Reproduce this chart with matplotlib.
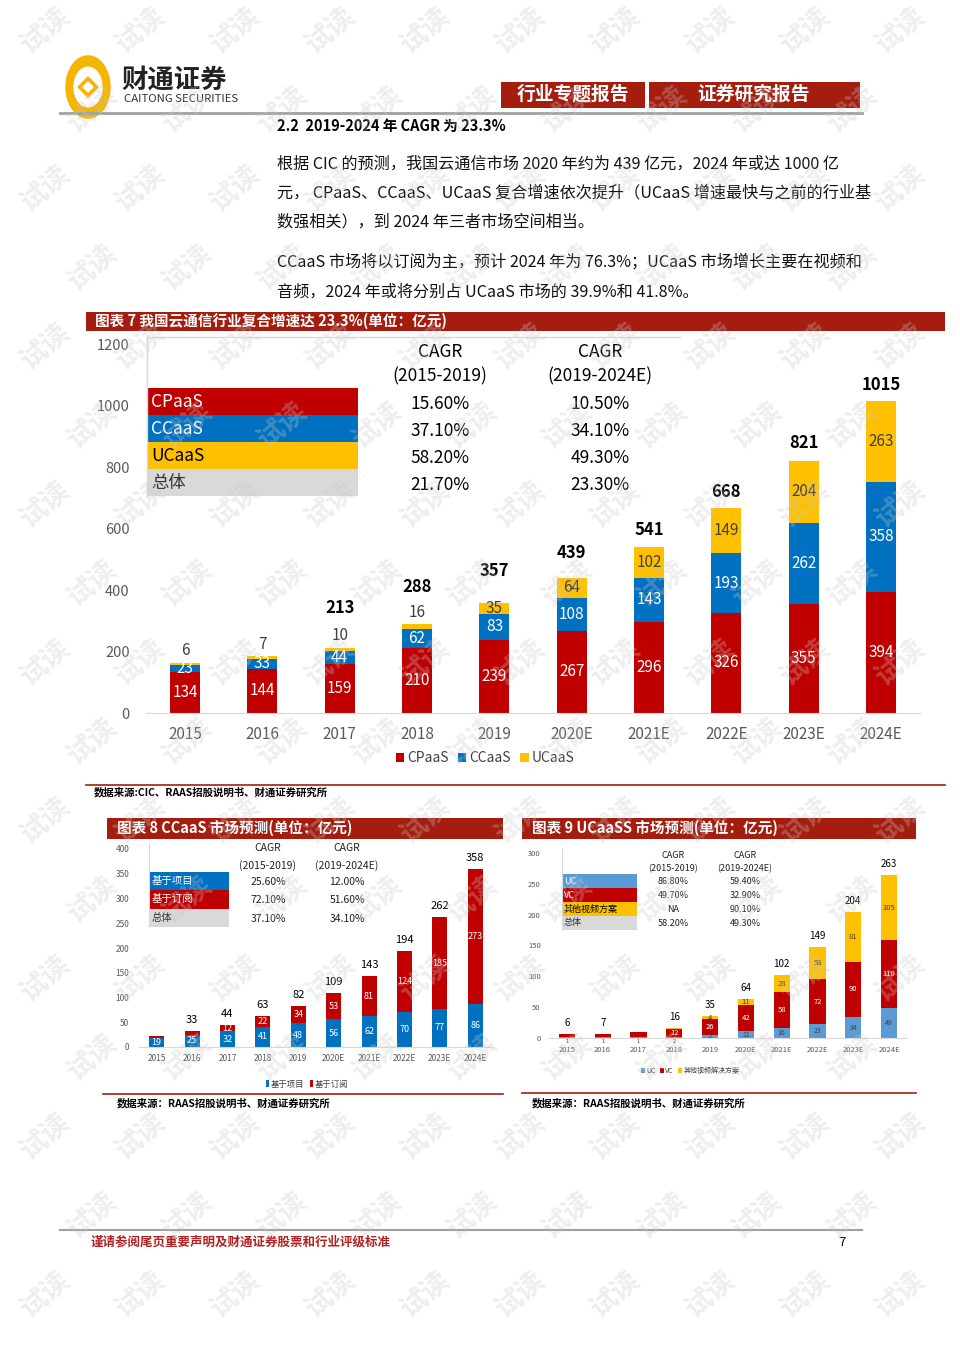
import matplotlib
matplotlib.use('Agg')
import numpy as np
import matplotlib.pyplot as plt
from matplotlib.patches import Rectangle, Circle, Polygon
from matplotlib.lines import Line2D

plt.rcParams['font.family'] = ['Noto Sans CJK SC', 'DejaVu Sans']

# ---- data ----
years = ['2015', '2016', '2017', '2018', '2019', '2020E', '2021E', '2022E', '2023E', '2024E']

# chart 7: cloud communication market (亿元)
cpaas = [134, 144, 159, 210, 239, 267, 296, 326, 355, 394]
ccaas = [23, 33, 44, 62, 83, 108, 143, 193, 262, 358]
ucaas = [6, 7, 10, 16, 35, 64, 102, 149, 204, 263]
total7 = [163, 184, 213, 288, 357, 439, 541, 668, 821, 1015]
cagr7_rows = ['CPaaS', 'CCaaS', 'UCaaS', '总体']
cagr7_a = ['15.60%', '37.10%', '58.20%', '21.70%']
cagr7_b = ['10.50%', '34.10%', '49.30%', '23.30%']

# chart 8: CCaaS
project = [19, 25, 32, 41, 48, 56, 62, 70, 77, 86]
subscr = [4, 8, 12, 22, 34, 53, 81, 124, 185, 273]
total8 = [23, 33, 44, 63, 82, 109, 143, 194, 262, 358]
cagr8_rows = ['基于项目', '基于订阅', '总体']
cagr8_a = ['25.60%', '72.10%', '37.10%']
cagr8_b = ['12.00%', '51.60%', '34.10%']

# chart 9: UCaaS
uc = [1, 1, 1, 2, 5, 11, 16, 23, 34, 49]
vc = [5, 6, 8, 12, 26, 42, 58, 72, 90, 110]
other = [0, 0, 1, 2, 4, 11, 28, 53, 81, 105]
total9 = [6, 7, 10, 16, 35, 64, 102, 149, 204, 263]
cagr9_rows = ['UC', 'VC', '其他视频方案', '总体']
cagr9_a = ['86.80%', '49.70%', 'NA', '58.20%']
cagr9_b = ['59.40%', '32.90%', '90.10%', '49.30%']

text_lines = [
    '根据 CIC 的预测，我国云通信市场 2020 年约为 439 亿元，2024 年或达 1000 亿',
    '元， CPaaS、CCaaS、UCaaS 复合增速依次提升（UCaaS 增速最快与之前的行业基',
    '数强相关），到 2024 年三者市场空间相当。',
    'CCaaS 市场将以订阅为主，预计 2024 年为 76.3%；UCaaS 市场增长主要在视频和',
    '音频，2024 年或将分别占 UCaaS 市场的 39.9%和 41.8%。',
]

RED = '#C00000'
BLUE = '#0070C0'
LBLUE = '#5B9BD5'
YELLOW = '#FFC000'
GRAY = '#D9D9D9'
BARRED = '#A41D0F'
TXT = '#404040'

W, H = 960, 1357
fig = plt.figure(figsize=(W / 100, H / 100), dpi=100)


def px_axes(x0, y0, x1, y1):
    return fig.add_axes([x0 / W, 1 - y1 / H, (x1 - x0) / W, (y1 - y0) / H])


def prect(x0, y0, x1, y1, color, **kw):
    fig.add_artist(Rectangle((x0 / W, 1 - y1 / H), (x1 - x0) / W, (y1 - y0) / H,
                             transform=fig.transFigure, facecolor=color,
                             edgecolor='none', **kw))


def pline(x0, y0, x1, y1, color, lw=1.0):
    fig.add_artist(Line2D([x0 / W, x1 / W], [1 - y0 / H, 1 - y1 / H],
                          transform=fig.transFigure, color=color, lw=lw))


def ptext(x, y, s, **kw):
    kw.setdefault('va', 'center')
    fig.text(x / W, 1 - y / H, s, **kw)


def clean(ax, fs, pad):
    for s in ['top', 'right', 'left']:
        ax.spines[s].set_visible(False)
    ax.spines['bottom'].set_color(GRAY)
    ax.tick_params(length=0, labelsize=fs, labelcolor='#595959')
    ax.tick_params(axis='x', pad=pad)
    ax.set_facecolor('none')


# ---- page header ----
lc = (88 / W, 1 - 87 / H)
fig.add_artist(Circle(lc, 22 / W, transform=fig.transFigure, color='#F4B400'))
fig.add_artist(Circle(lc, 14 / W, transform=fig.transFigure, color='white'))
r1, r2 = 10, 5
fig.add_artist(Polygon([(88 / W, 1 - (87 - r1) / H), ((88 + r1) / W, 1 - 87 / H),
                        (88 / W, 1 - (87 + r1) / H), ((88 - r1) / W, 1 - 87 / H)],
                       transform=fig.transFigure, color='#F4B400'))
fig.add_artist(Polygon([(88 / W, 1 - (87 - r2) / H), ((88 + r2) / W, 1 - 87 / H),
                        (88 / W, 1 - (87 + r2) / H), ((88 - r2) / W, 1 - 87 / H)],
                       transform=fig.transFigure, color='white'))
ptext(121, 80, '财通证券', fontsize=19, fontweight='bold', color='#222222')
ptext(124, 99, 'CAITONG SECURITIES', fontsize=8.2, color='#333333')

prect(501, 82, 645, 108, BARRED)
prect(649, 82, 860, 108, BARRED)
ptext(573, 94, '行业专题报告', fontsize=13.5, fontweight='bold', color='white', ha='center')
ptext(754, 94, '证券研究报告', fontsize=13.5, fontweight='bold', color='white', ha='center')
pline(60, 113, 862, 113, '#A0A0A0', lw=2)

ptext(277, 126, '2.2  2019-2024 年 CAGR 为 23.3%', fontsize=10.5, fontweight='bold', color='black')
for yy, line in zip([164, 193, 222, 262, 292], text_lines):
    ptext(277, yy, line, fontsize=11.6, color='#111111')

# ---- chart 7 ----
prect(86, 312, 945, 331, BARRED)
ptext(95, 321, '图表 7 我国云通信行业复合增速达 23.3%(单位：亿元)', fontsize=10.5,
      fontweight='bold', color='white')

ax = px_axes(146.4, 344, 919.7, 713)
x = np.arange(len(years))
bw = 0.39
b1 = ax.bar(x, cpaas, bw, color=RED, label='CPaaS')
b2 = ax.bar(x, ccaas, bw, bottom=cpaas, color=BLUE, label='CCaaS')
bot = np.array(cpaas) + np.array(ccaas)
b3 = ax.bar(x, ucaas, bw, bottom=bot, color=YELLOW, label='UCaaS')
ax.set_xlim(-0.5, 9.5)
ax.set_ylim(0, 1200)
ax.set_yticks(range(0, 1201, 200))
ax.set_xticks(x, years)
clean(ax, 10.5, 9)
for t in ax.get_xticklabels():
    t.set_fontsize(11)
ax.tick_params(axis='y', pad=12)

tot_off = [0, 0, 40, 37, 32, 25, 17, 16, 18, 16]
for i in range(len(years)):
    ax.text(x[i], cpaas[i] / 2, str(cpaas[i]), ha='center', va='center', color='white', fontsize=11)
    ax.text(x[i], cpaas[i] + ccaas[i] / 2, str(ccaas[i]), ha='center', va='center',
            color='white', fontsize=11)
    top = cpaas[i] + ccaas[i] + ucaas[i]
    if ucaas[i] >= 20:
        ax.text(x[i], bot[i] + ucaas[i] / 2, str(ucaas[i]), ha='center', va='center',
                color=TXT, fontsize=11)
    else:
        ax.annotate(str(ucaas[i]), (x[i], top), xytext=(0, 12), textcoords='offset pixels',
                    ha='center', va='center', color=TXT, fontsize=11)
    if i >= 2:
        ax.annotate(str(total7[i]), (x[i], top), xytext=(0, tot_off[i]),
                    textcoords='offset pixels', ha='center', va='center',
                    color='black', fontsize=12, fontweight='bold')

# inset CAGR table
pline(147, 337, 680, 337, GRAY, lw=1)
pline(147, 337, 147, 497, GRAY, lw=1)
cell_cols = [RED, BLUE, YELLOW, GRAY]
cell_txt = ['white', 'white', 'black', '#333333']
for k, name in enumerate(cagr7_rows):
    y0 = 388 + 27 * k
    prect(147, y0, 358, y0 + 27, cell_cols[k])
    ptext(151, y0 + 14, name, fontsize=12.5, color=cell_txt[k])
    ptext(440, y0 + 16, cagr7_a[k], fontsize=12.5, color='black', ha='center')
    ptext(600, y0 + 16, cagr7_b[k], fontsize=12.5, color='black', ha='center')
for cx, period in [(440, '(2015-2019)'), (600, '(2019-2024E)')]:
    ptext(cx, 352, 'CAGR', fontsize=12.5, color='black', ha='center')
    ptext(cx, 376, period, fontsize=12.5, color='black', ha='center')

fig.legend(handles=[b1, b2, b3], loc='center', bbox_to_anchor=(485 / W, 1 - 758 / H),
           ncol=3, frameon=False, fontsize=10, handlelength=0.6, handleheight=0.6,
           handletextpad=0.2, columnspacing=0.7, labelcolor=TXT)

pline(86, 785, 945, 785, BARRED, lw=1.2)
ptext(94, 792, '数据来源:CIC、RAAS招股说明书、财通证券研究所', fontsize=7.5,
      fontweight='bold', color='black')

# ---- chart 8 ----
prect(107, 818, 503, 839, BARRED)
ptext(117, 828, '图表 8 CCaaS 市场预测(单位：亿元)', fontsize=10.5, fontweight='bold', color='white')

ax8 = px_axes(139, 849, 493, 1047)
bw8 = 0.42
c1 = ax8.bar(x, project, bw8, color=BLUE, label='基于项目')
c2 = ax8.bar(x, subscr, bw8, bottom=project, color=RED, label='基于订阅')
ax8.set_xlim(-0.5, 9.5)
ax8.set_ylim(0, 400)
ax8.set_yticks(range(0, 401, 50))
ax8.set_xticks(x, years)
clean(ax8, 6, 5)
ax8.tick_params(axis='y', pad=7)
for i in range(len(years)):
    ax8.text(x[i], project[i] / 2, str(project[i]), ha='center', va='center', color='white', fontsize=6.5)
    if subscr[i] >= 10:
        ax8.text(x[i], project[i] + subscr[i] / 2, str(subscr[i]), ha='center', va='center',
                 color='white', fontsize=6.5)
    if i >= 1:
        ax8.annotate(str(total8[i]), (x[i], project[i] + subscr[i]), xytext=(0, 11),
                     textcoords='offset pixels', ha='center', va='center',
                     color='black', fontsize=8)

pline(149, 843, 149, 927, GRAY, lw=0.8)
cols8 = [BLUE, RED, GRAY]
txt8 = ['white', 'white', '#333333']
for k, name in enumerate(cagr8_rows):
    y0 = 872 + 18.3 * k
    prect(149, y0, 229, y0 + 18.3, cols8[k])
    ptext(152, y0 + 9, name, fontsize=7.5, color=txt8[k])
    ptext(268, y0 + 10, cagr8_a[k], fontsize=7.5, color='#222222', ha='center')
    ptext(347, y0 + 10, cagr8_b[k], fontsize=7.5, color='#222222', ha='center')
for cx, period in [(268, '(2015-2019)'), (347, '(2019-2024E)')]:
    ptext(cx, 848, 'CAGR', fontsize=7.5, color='#222222', ha='center')
    ptext(cx, 866, period, fontsize=7.5, color='#222222', ha='center')

fig.legend(handles=[c1, c2], loc='center', bbox_to_anchor=(307 / W, 1 - 1084 / H),
           ncol=2, frameon=False, fontsize=6, handlelength=0.4, handleheight=0.8,
           handletextpad=0.2, columnspacing=0.6, labelcolor=TXT)
pline(103, 1094, 503, 1094, BARRED, lw=1.2)
ptext(117, 1103, '数据来源：RAAS招股说明书、财通证券研究所', fontsize=7.5,
      fontweight='bold', color='black')

# ---- chart 9 ----
prect(522, 818, 916, 839, BARRED)
ptext(532, 828, '图表 9 UCaaSS 市场预测(单位：亿元)', fontsize=10.5, fontweight='bold', color='white')

ax9 = px_axes(549, 853, 907, 1038)
bw9 = 0.45
d1 = ax9.bar(x, uc, bw9, color=LBLUE, label='UC')
d2 = ax9.bar(x, vc, bw9, bottom=uc, color=RED, label='VC')
bot9 = np.array(uc) + np.array(vc)
d3 = ax9.bar(x, other, bw9, bottom=bot9, color=YELLOW, label='其他视频解决方案')
ax9.set_xlim(-0.5, 9.5)
ax9.set_ylim(0, 300)
ax9.set_yticks(range(0, 301, 50))
ax9.set_xticks(x, years)
clean(ax9, 5.5, 5.5)
ax9.tick_params(axis='y', pad=6)
for i in range(len(years)):
    if uc[i] >= 5:
        ax9.text(x[i], uc[i] / 2, str(uc[i]), ha='center', va='center', color=TXT, fontsize=5)
    else:
        # tiny UC slices: label sits just under the bar
        ax9.annotate(str(uc[i]), (x[i], 0), xytext=(0, -1), textcoords='offset pixels',
                     ha='center', va='top', color=TXT, fontsize=4)
    if vc[i] >= 10:
        ax9.text(x[i], uc[i] + vc[i] / 2, str(vc[i]), ha='center', va='center',
                 color='white', fontsize=5.5)
    if other[i] >= 4:
        ax9.text(x[i], bot9[i] + other[i] / 2, str(other[i]), ha='center', va='center',
                 color=TXT, fontsize=5.5)
    if i != 2:
        ax9.annotate(str(total9[i]), (x[i], bot9[i] + other[i]), xytext=(0, 11),
                     textcoords='offset pixels', ha='center', va='center',
                     color='black', fontsize=7)

pline(562, 849, 562, 930, GRAY, lw=0.8)
cols9 = [LBLUE, RED, YELLOW, GRAY]
txt9 = ['white', 'white', 'black', '#333333']
for k, name in enumerate(cagr9_rows):
    y0 = 874 + 14 * k
    prect(562, y0, 637, y0 + 14, cols9[k])
    ptext(564, y0 + 7, name, fontsize=6.5, color=txt9[k])
    ptext(673, y0 + 8, cagr9_a[k], fontsize=6.5, color='#222222', ha='center')
    ptext(745, y0 + 8, cagr9_b[k], fontsize=6.5, color='#222222', ha='center')
for cx, period in [(673, '(2015-2019)'), (745, '(2019-2024E)')]:
    ptext(cx, 855, 'CAGR', fontsize=6.5, color='#222222', ha='center')
    ptext(cx, 869, period, fontsize=6.5, color='#222222', ha='center')

fig.legend(handles=[d1, d2, d3], loc='center', bbox_to_anchor=(690 / W, 1 - 1071 / H),
           ncol=3, frameon=False, fontsize=5, handlelength=0.6, handleheight=0.6,
           handletextpad=0.2, columnspacing=0.6, labelcolor=TXT)
pline(522, 1093, 916, 1093, BARRED, lw=1.2)
ptext(532, 1103, '数据来源：RAAS招股说明书、财通证券研究所', fontsize=7.5,
      fontweight='bold', color='black')

# ---- footer ----
pline(60, 1230, 862, 1230, '#A0A0A0', lw=1.5)
ptext(91, 1242, '谨请参阅尾页重要声明及财通证券股票和行业评级标准', fontsize=9,
      fontweight='bold', color='#B22222')
ptext(838, 1242, '7', fontsize=9.5, color='black')

# ---- watermark ----
for row in range(17):
    yy = 30 + 79 * row
    shift = 0 if row % 2 == 0 else 47
    for col in range(10):
        xx = 45 + 95 * col + shift
        if xx > 925:
            continue
        fig.text(xx / W, 1 - yy / H, '试读', fontsize=20, rotation=40, color='#C8C8C8',
                 alpha=0.3, ha='center', va='center', fontweight='bold', zorder=100)

fig.savefig('out.png', dpi=100)
